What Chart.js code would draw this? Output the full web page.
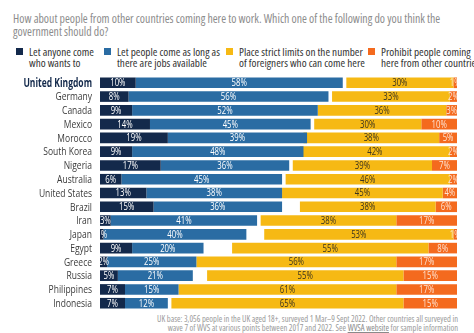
<!DOCTYPE html>
<html><head><meta charset="utf-8">
<script src="https://cdn.jsdelivr.net/npm/chart.js@4"></script>
<style>
html,body{margin:0;padding:0;background:#fff;width:474px;height:333px;overflow:hidden;font-family:"Open Sans",sans-serif;font-stretch:condensed;}
#title{position:absolute;left:13px;top:12px;width:455px;font-size:11.8px;line-height:13px;color:#8c8c8c;}
.lg{position:absolute;top:46px;font-size:11.2px;line-height:11px;color:#333;white-space:nowrap;}
.lg i{position:absolute;left:-13px;top:2px;width:7px;height:7px;}
#foot{position:absolute;right:16px;top:314px;font-size:8.5px;line-height:9px;color:#9a9a9a;text-align:right;white-space:nowrap;}
#foot u{color:#8a8a8a;}
#wrap{position:absolute;left:0;top:61px;width:474px;height:264px;}
</style></head><body>
<div id="title">How about people from other countries coming here to work. Which one of the following do you think the government should do?</div>
<div id="legend"></div>
<div id="foot">UK base: 3,056 people in the UK aged 18+, surveyed 1 Mar–9 Sept 2022. Other countries all surveyed in<br>wave 7 of WVS at various points between 2017 and 2022. See <u>WVSA website</u> for sample information</div>
<div id="wrap"><canvas id="c"></canvas></div>
<script>
const countries = ["United Kingdom","Germany","Canada","Mexico","Morocco","South Korea","Nigeria","Australia","United States","Brazil","Iran","Japan","Egypt","Greece","Russia","Philippines","Indonesia"];
const letAnyone   = [10, 8, 9,14,19, 9,17, 6,13,15, 3, 1, 9, 2, 5, 7, 7];
const jobsAvail   = [58,56,52,45,39,48,36,45,38,36,41,40,20,25,21,15,12];
const strictLimit = [30,33,36,30,38,42,39,46,45,38,38,53,55,56,55,61,65];
const prohibit    = [ 1, 2, 3,10, 5, 2, 7, 2, 4, 6,17, 1, 8,17,15,17,15];
const seriesNames = ["Let anyone come\nwho wants to","Let people come as long as\nthere are jobs available","Place strict limits on the number\nof foreigners who can come here","Prohibit people coming\nhere from other countries"];
const colors = ["#13294b","#2a6ca3","#f6b914","#f46a1e"];
const labelColors = ["#ffffff","#ffffff","#3b3420","#fde3d2"];
const legendX = [29,117,239,381];
const FAM = '"Open Sans", sans-serif';
const SX = 0.74; // horizontal condensing of canvas text

// legend
const lg = document.getElementById('legend');
seriesNames.forEach((n,i)=>{
  const d=document.createElement('div');d.className='lg';d.style.left=legendX[i]+'px';
  d.innerHTML='<i style="background:'+colors[i]+'"></i>'+n.replace('\n','<br>');
  lg.appendChild(d);
});

const seg = [
  letAnyone.map(v=>[0,v]),
  letAnyone.map((v,i)=>[v,v+jobsAvail[i]]),
  strictLimit.map((v,i)=>[100-prohibit[i]-v,100-prohibit[i]]),
  prohibit.map(v=>[100-v,100])
];
const vals=[letAnyone,jobsAvail,strictLimit,prohibit];

// condensed category labels, placed with the y scale's own pixel positions
const catLabelPlugin={id:'catLabels',afterDraw(chart){
  const ctx=chart.ctx;const s=chart.scales.y;
  const xr=s.right-8;
  ctx.save();
  ctx.textAlign='right';ctx.textBaseline='middle';
  chart.data.labels.forEach((lab,i)=>{
    const y=s.getPixelForValue(i);
    ctx.font=(i===0?'bold ':'')+'11.5px '+FAM;
    ctx.fillStyle=i===0?'#13294b':'#3a3a3a';
    ctx.save();ctx.translate(xr,y);ctx.scale(SX,1);
    ctx.fillText(lab,0,0.5);
    ctx.restore();
  });
  ctx.restore();
}};

const labelPlugin={id:'segLabels',afterDatasetsDraw(chart){
  const ctx=chart.ctx;const a=chart.chartArea;
  ctx.save();
  ctx.beginPath();ctx.rect(a.left,a.top,a.right-a.left,a.bottom-a.top);ctx.clip();
  ctx.font='10.5px '+FAM;
  ctx.textAlign='center';ctx.textBaseline='middle';
  chart.data.datasets.forEach((ds,di)=>{
    chart.getDatasetMeta(di).data.forEach((el,i)=>{
      const l=Math.min(el.x,el.base),r=Math.max(el.x,el.base);
      ctx.fillStyle=labelColors[di];
      ctx.save();ctx.translate((l+r)/2,el.y+0.5);ctx.scale(SX,1);
      ctx.fillText(vals[di][i]+'%',0,0);
      ctx.restore();
    });
  });
  ctx.restore();
}};

new Chart(document.getElementById('c'),{
  type:'bar',
  data:{labels:countries,datasets:seg.map((d,i)=>({label:seriesNames[i],data:d,backgroundColor:colors[i],borderWidth:0,grouped:false,categoryPercentage:1,barPercentage:0.77}))},
  options:{
    indexAxis:'y',responsive:true,maintainAspectRatio:false,animation:false,
    layout:{padding:{left:0,right:17,top:0,bottom:0}},
    plugins:{legend:{display:false},tooltip:{enabled:false}},
    scales:{
      x:{display:false,min:0,max:100},
      y:{grid:{display:false},border:{display:false},
        afterFit(s){s.width=100;},
        ticks:{autoSkip:false,padding:8,color:'rgba(0,0,0,0)',
          font:{family:FAM,size:11.5}}}
    }
  },
  plugins:[labelPlugin,catLabelPlugin]
});
</script>
</body></html>
